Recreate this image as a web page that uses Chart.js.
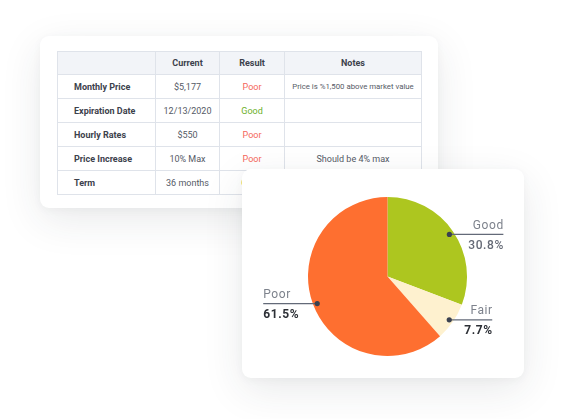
<!DOCTYPE html>
<html>
<head>
<meta charset="utf-8">
<script src="https://cdn.jsdelivr.net/npm/chart.js@4"></script>
<style>
  html, body {
    margin: 0;
    padding: 0;
    width: 568px;
    height: 419px;
    background: #fff;
    overflow: hidden;
    font-family: Roboto, "Noto Sans", sans-serif;
  }
  .card {
    position: absolute;
    background: #fff;
    border-radius: 9px;
    box-shadow: 0 12px 40px rgba(40, 45, 60, 0.10), 0 2px 8px rgba(40, 45, 60, 0.04);
  }
  #tableCard {
    left: 40px;
    top: 36px;
    width: 398px;
    height: 172px;
    z-index: 1;
  }
  #pieCard {
    left: 242px;
    top: 169px;
    width: 282px;
    height: 209px;
    z-index: 2;
  }
  table {
    position: absolute;
    left: 17px;
    top: 15px;
    border-collapse: collapse;
    font-size: 9px;
    color: #555a66;
  }
  th, td {
    border: 1px solid #dfe3ea;
    padding: 0;
    text-align: center;
    height: 23px;
  }
  th {
    background: #f2f4f8;
    color: #3c414c;
    font-weight: 700;
    height: 22px;
  }
  td.label {
    text-align: left;
    padding-left: 16px;
    font-weight: 700;
    color: #3c414c;
  }
  td.note-small {
    font-size: 7.8px;
  }
  .poor { color: #f5675a; }
  .good { color: #6cb02a; }
  #pieChart {
    position: absolute;
    left: 0;
    top: 0;
  }
</style>
</head>
<body>
<div class="card" id="tableCard">
  <table id="scoreTable">
    <thead>
      <tr>
        <th style="width:97px"></th>
        <th style="width:63px">Current</th>
        <th style="width:64px">Result</th>
        <th style="width:136px">Notes</th>
      </tr>
    </thead>
    <tbody id="scoreRows"></tbody>
  </table>
</div>
<div class="card" id="pieCard">
  <canvas id="pieChart" width="282" height="209"></canvas>
</div>
<script>
// table data
const rowLabels = ["Monthly Price", "Expiration Date", "Hourly Rates", "Price Increase", "Term"];
const currentValues = ["$5,177", "12/13/2020", "$550", "10% Max", "36 months"];
const results = ["Poor", "Good", "Poor", "Poor", "Good"];
const notes = ["Price is %1,500 above market value", "", "", "Should be 4% max", ""];

// pie data
const categories = ["Good", "Fair", "Poor"];
const shares = [30.8, 7.7, 61.5];
const sliceColors = ["#adc61f", "#fef1cf", "#fe6f30"];

function fillTable() {
  const tbody = document.getElementById("scoreRows");
  rowLabels.forEach((label, i) => {
    const tr = document.createElement("tr");
    const noteClass = notes[i].length > 20 ? "note-small" : "";
    tr.innerHTML = `
      <td class="label">${label}</td>
      <td>${currentValues[i]}</td>
      <td class="${results[i].toLowerCase()}">${results[i]}</td>
      <td class="${noteClass}">${notes[i]}</td>
    `;
    tbody.appendChild(tr);
  });
}

// draws the dot + leader line + name/value text for each slice
const leaderLabels = {
  id: "leaderLabels",
  afterDatasetsDraw(chart, args, opts) {
    const ctx = chart.ctx;
    const meta = chart.getDatasetMeta(0);
    meta.data.forEach((arc, i) => {
      const mid = (arc.startAngle + arc.endAngle) / 2;
      const r = arc.outerRadius * opts.dotRatio;
      const x = arc.x + Math.cos(mid) * r;
      const y = arc.y + Math.sin(mid) * r;
      const right = Math.cos(mid) >= 0;
      const len = opts.lineLengths[i];
      const endX = right ? x + len : x - len;

      ctx.save();
      ctx.strokeStyle = "#636a78";
      ctx.lineWidth = 1.2;
      ctx.beginPath();
      ctx.moveTo(x, y + 0.5);
      ctx.lineTo(endX, y + 0.5);
      ctx.stroke();

      ctx.fillStyle = "#3a4150";
      ctx.beginPath();
      ctx.arc(x, y + 0.5, 2.6, 0, Math.PI * 2);
      ctx.fill();

      ctx.textAlign = right ? "right" : "left";
      ctx.textBaseline = "alphabetic";
      ctx.letterSpacing = "0.6px";
      const tx = right ? endX + 0.5 : endX;

      ctx.font = "400 12px Roboto";
      ctx.fillStyle = "#7d828c";
      ctx.fillText(chart.data.labels[i], tx, y - 5);

      ctx.font = opts.valueWeights[i] + " 12px Roboto";
      ctx.fillStyle = opts.valueColors[i];
      ctx.fillText(chart.data.datasets[0].data[i].toFixed(1) + "%", tx, y + 15);
      ctx.restore();
    });
  },
};

function drawPie() {
  new Chart(document.getElementById("pieChart"), {
    type: "pie",
    data: {
      labels: categories,
      datasets: [
        {
          data: shares,
          backgroundColor: sliceColors,
          borderWidth: 0,
        },
      ],
    },
    options: {
      responsive: false,
      animation: false,
      layout: {
        padding: { top: 28, bottom: 22, left: 66, right: 57 },
      },
      plugins: {
        legend: { display: false },
        tooltip: { enabled: false },
        leaderLabels: {
          dotRatio: 0.945,
          lineLengths: [54, 43, 54],
          valueColors: ["#656a76", "#2d3036", "#2d3036"],
          valueWeights: ["500", "700", "700"],
        },
      },
    },
    plugins: [leaderLabels],
  });
}

fillTable();
drawPie();
</script>
</body>
</html>
